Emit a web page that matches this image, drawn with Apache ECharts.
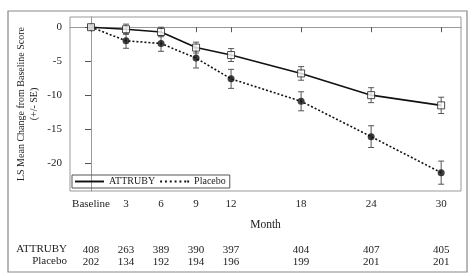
<!DOCTYPE html>
<html>
<head>
<meta charset="utf-8">
<script src="https://cdn.jsdelivr.net/npm/echarts@6/dist/echarts.min.js"></script>
<style>
  html, body { margin: 0; padding: 0; background: #fff; }
  #chart { width: 474px; height: 276px; }
</style>
</head>
<body>
<div id="chart"></div>
<script>
const months = [0, 3, 6, 9, 12, 18, 24, 30]
const yTicks = [0, -5, -10, -15, -20]
const attruby = [0, -0.3, -0.7, -3.0, -4.1, -6.8, -10.0, -11.5]
const attrubySE = [0, 0.75, 0.7, 0.8, 0.95, 1.0, 1.1, 1.2]
const placebo = [0, -2.0, -2.4, -4.55, -7.6, -10.9, -16.1, -21.4]
const placeboSE = [0, 1.1, 1.15, 1.45, 1.4, 1.4, 1.6, 1.7]
const nAttruby = [408, 263, 389, 390, 397, 404, 407, 405]
const nPlacebo = [202, 134, 192, 194, 196, 199, 201, 201]

const font = 'Liberation Serif'
const ink = '#222'

// legend glyphs: a solid bar and a row of short dashes
const solidIcon = 'path://M0,0L30,0L30,2L0,2Z'
const dottedIcon = 'path://M0,0L2,0L2,2L0,2Z M5,0L7,0L7,2L5,2Z M10,0L12,0L12,2L10,2Z M15,0L17,0L17,2L15,2Z M20,0L22,0L22,2L20,2Z M25,0L27,0L27,2L25,2Z M28,0L30,0L30,2L28,2Z'

let charts = echarts.init(document.getElementById('chart'))

const pairs = (ys) => months.map((m, i) => [m, ys[i]])
const errData = (ys, se) => months.map((m, i) => [m, ys[i], se[i]])

// vertical error bar with little caps
const errorBar = (params, api) => {
  let x = api.value(0), y = api.value(1), e = api.value(2)
  if (!e) return null
  let hi = api.coord([x, y + e])
  let lo = api.coord([x, y - e])
  let style = { stroke: '#555', lineWidth: 1 }
  return {
    type: 'group',
    children: [
      { type: 'line', shape: { x1: hi[0], y1: hi[1], x2: lo[0], y2: lo[1] }, style },
      { type: 'line', shape: { x1: hi[0] - 3, y1: hi[1], x2: hi[0] + 3, y2: hi[1] }, style },
      { type: 'line', shape: { x1: lo[0] - 3, y1: lo[1], x2: lo[0] + 3, y2: lo[1] }, style }
    ]
  }
}

let options = {
  animation: false,
  textStyle: { fontFamily: font, color: ink },
  graphic: [
    {
      type: 'rect',
      shape: { x: 8, y: 11, width: 459, height: 261 },
      style: { fill: 'none', stroke: '#888', lineWidth: 1.2 },
      silent: true
    },
    {
      type: 'text',
      right: 474 - 67,
      top: 244,
      style: { text: 'ATTRUBY', font: '11px ' + font, fill: ink, textAlign: 'right' }
    },
    {
      type: 'text',
      right: 474 - 67,
      top: 256,
      style: { text: 'Placebo', font: '11px ' + font, fill: ink, textAlign: 'right' }
    }
  ],
  legend: {
    data: [
      { name: 'ATTRUBY', icon: solidIcon },
      { name: 'Placebo', icon: dottedIcon }
    ],
    left: 72,
    top: 175,
    itemWidth: 29,
    itemHeight: 2,
    itemGap: 5,
    padding: [1, 4, 1, 3],
    borderColor: '#555',
    borderWidth: 1,
    itemStyle: { color: '#111' },
    textStyle: { fontFamily: font, fontSize: 10, color: ink, lineHeight: 11 }
  },
  grid: {
    left: 70,
    right: 13,
    top: 17,
    bottom: 85,
    show: true,
    borderColor: '#999',
    borderWidth: 1
  },
  xAxis: [
    {
      type: 'value',
      min: -1.8,
      max: 31.7,
      name: 'Month',
      nameLocation: 'middle',
      nameGap: 28,
      nameTextStyle: { fontFamily: font, fontSize: 11.5, color: ink },
      axisLine: { lineStyle: { color: '#999' } },
      axisTick: { customValues: months, length: 5, lineStyle: { color: '#555' } },
      axisLabel: {
        customValues: months,
        fontFamily: font,
        fontSize: 11,
        color: ink,
        margin: 8,
        formatter: (v) => (v === 0 ? 'Baseline' : String(v))
      },
      splitLine: { show: false }
    },
    {
      type: 'value',
      position: 'bottom',
      offset: 45,
      min: -1.8,
      max: 31.7,
      axisLine: { show: false },
      axisTick: { show: false },
      axisLabel: {
        customValues: months,
        margin: 8,
        fontFamily: font,
        fontSize: 11,
        color: ink,
        lineHeight: 12,
        formatter: (v) => {
          let i = months.indexOf(v)
          return nAttruby[i] + '\n' + nPlacebo[i]
        }
      },
      splitLine: { show: false }
    }
  ],
  yAxis: {
    type: 'value',
    min: -24.1,
    max: 1.5,
    name: 'LS Mean Change from Baseline Score\n(+/- SE)',
    nameLocation: 'middle',
    nameGap: 29,
    nameMoveOverlap: false,
    nameTextStyle: { fontFamily: font, fontSize: 10, color: ink, lineHeight: 13 },
    axisLine: { show: true, lineStyle: { color: '#999' } },
    axisTick: { show: true, customValues: yTicks, length: 6, lineStyle: { color: '#555' } },
    axisLabel: { customValues: yTicks, fontFamily: font, fontSize: 11, color: ink, margin: 8 },
    splitLine: { show: false }
  },
  series: [
    {
      name: 'Placebo',
      type: 'line',
      data: pairs(placebo),
      showSymbol: false,
      symbol: 'none',
      lineStyle: { color: '#111', width: 1.6, type: [2, 2] },
      itemStyle: { color: '#111' },
      z: 2
    },
    {
      name: 'ATTRUBY',
      type: 'line',
      data: pairs(attruby),
      showSymbol: false,
      symbol: 'none',
      lineStyle: { color: '#111', width: 1.6 },
      itemStyle: { color: '#111' },
      z: 3
    },
    {
      name: 'Placebo SE',
      type: 'custom',
      renderItem: errorBar,
      data: errData(placebo, placeboSE),
      z: 2
    },
    {
      name: 'ATTRUBY SE',
      type: 'custom',
      renderItem: errorBar,
      data: errData(attruby, attrubySE),
      z: 3
    },
    {
      name: 'Placebo points',
      type: 'scatter',
      data: pairs(placebo),
      symbol: 'circle',
      symbolSize: 7,
      itemStyle: { color: '#111' },
      z: 4
    },
    {
      name: 'ATTRUBY points',
      type: 'scatter',
      data: pairs(attruby),
      symbol: 'rect',
      symbolSize: 7,
      itemStyle: { color: '#fff', borderColor: '#222', borderWidth: 1 },
      z: 5
    }
  ]
}
charts.setOption(options)
</script>
</body>
</html>
